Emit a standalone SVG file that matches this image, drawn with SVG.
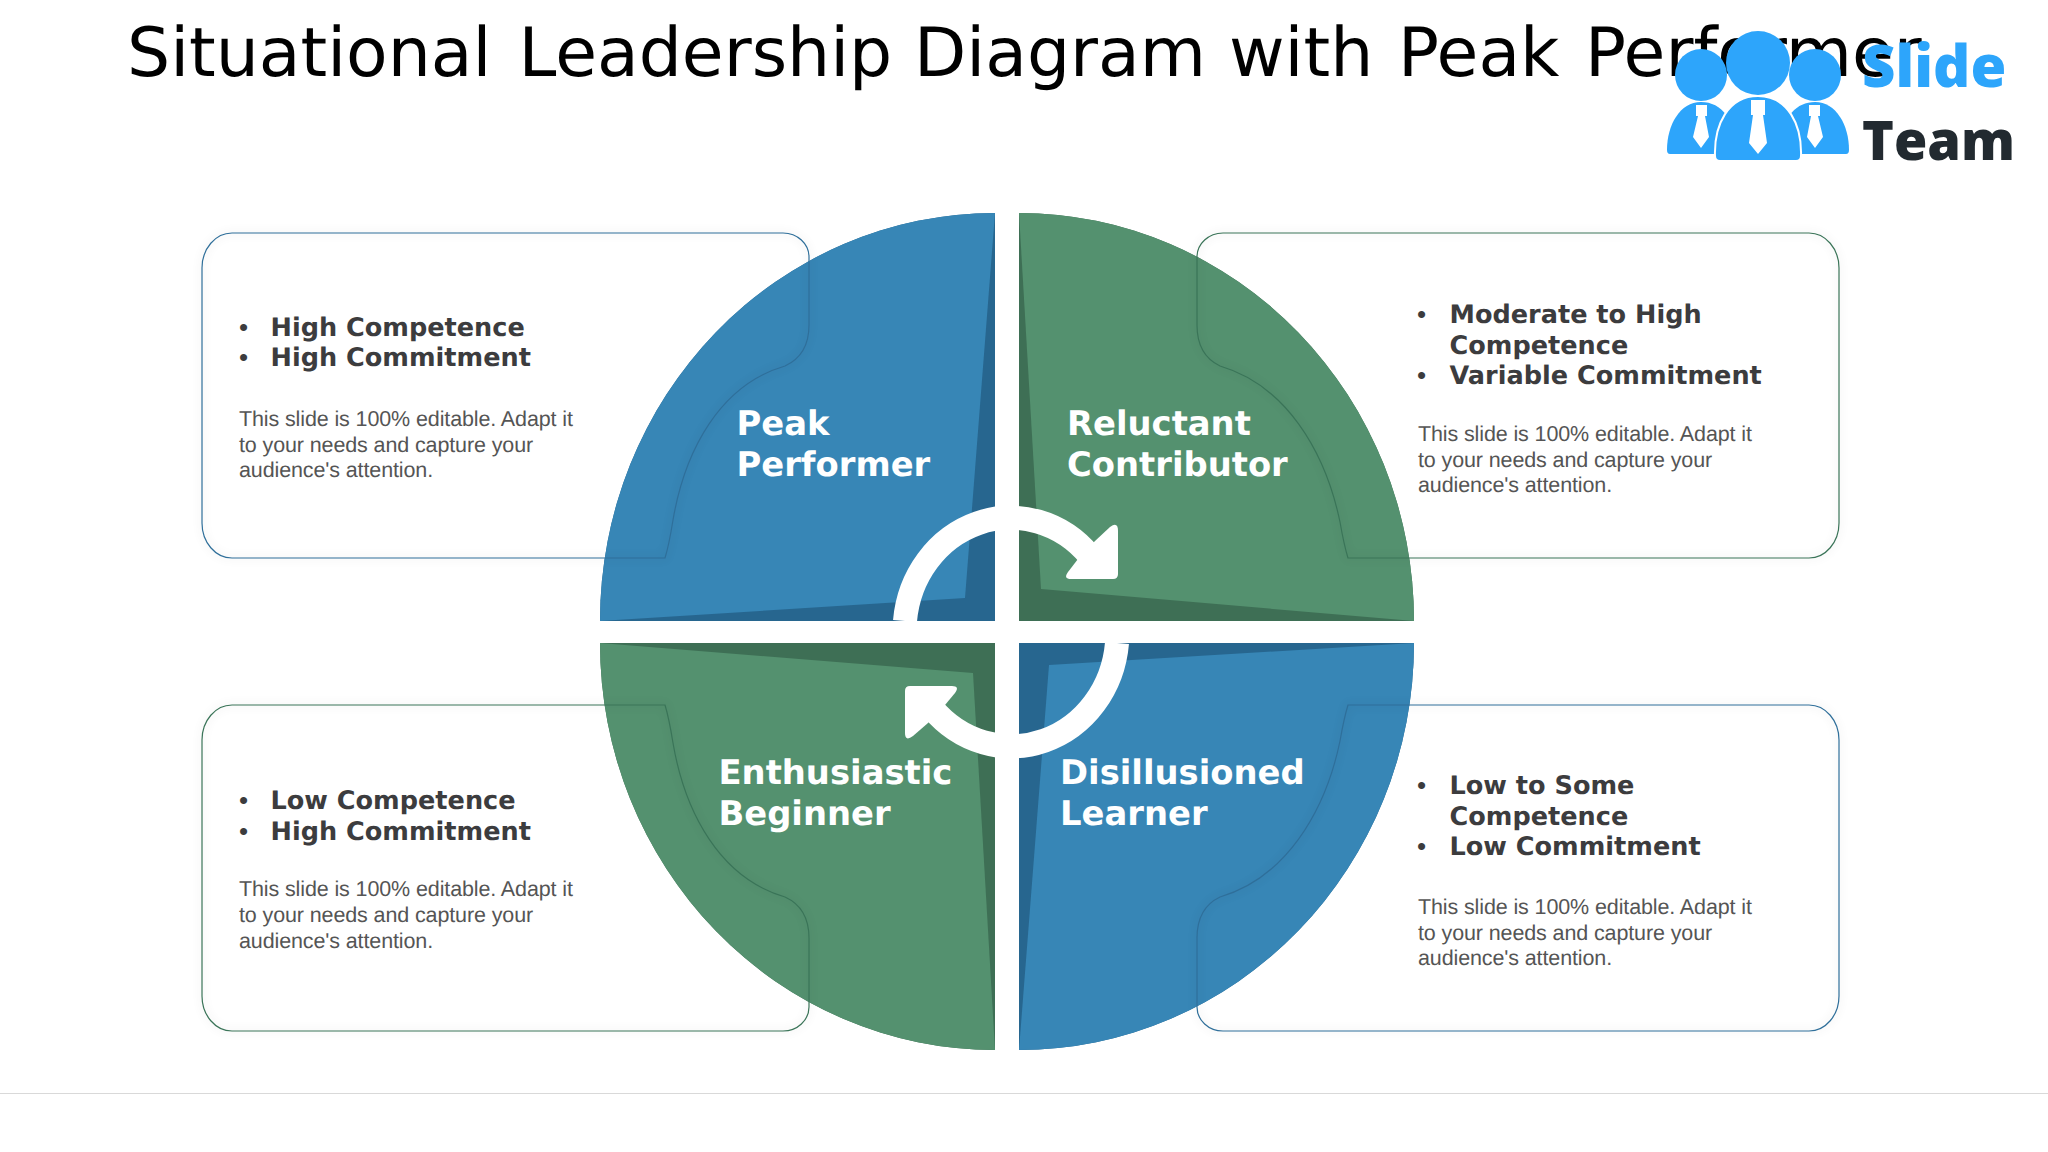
<svg xmlns="http://www.w3.org/2000/svg" width="2048" height="1152" viewBox="0 0 2048 1152">
<defs>
<style>
.title{font-family:"DejaVu Sans",sans-serif;font-size:68px;fill:#000;text-rendering:geometricPrecision}
.lab{font-family:"DejaVu Sans",sans-serif;font-weight:700;font-size:33.8px;fill:#fff;text-rendering:geometricPrecision}
.bul{font-family:"DejaVu Sans",sans-serif;font-weight:700;font-size:25.55px;fill:#3c3c3e;text-rendering:geometricPrecision}
.dot{font-family:"Liberation Sans",sans-serif;font-size:26px;fill:#3c3c3e}
.small{font-family:"Liberation Sans",sans-serif;font-size:21.5px;letter-spacing:-.12px;fill:#555;text-rendering:geometricPrecision}
.bd{fill:#27668f}.bl{fill:#3786b6}.gd{fill:#3e6f55}.gl{fill:#54916f}
.sh{fill:none;stroke:#000;stroke-width:6;opacity:.035;filter:url(#blur)}
.cb{fill:none;stroke:#2f6f9a;stroke-width:1.2}
.cg{fill:none;stroke:#3a7458;stroke-width:1.2}
.ring{fill:none;stroke:#fff;stroke-width:24}
.head{fill:#fff}
.logo{fill:#2da5fb}
.tie{fill:#fff}
</style>
<filter id="blur" x="-10%" y="-10%" width="120%" height="120%"><feGaussianBlur stdDeviation="5"/></filter>
<path id="c1" d="M232,233 H783 A26,24 0 0 1 809,257 V325 Q809,355 785,366 C720,385 685,450 673,520 Q669,545 665,558 H232 A30,35 0 0 1 202,523 V268 A30,35 0 0 1 232,233 Z"/>
<path id="c2" d="M1223,233 H1809 A30,35 0 0 1 1839,268 V523 A30,35 0 0 1 1809,558 H1348 Q1344,545 1340,522 C1325,450 1285,385 1220,366 Q1197,355 1197,325 V257 A26,24 0 0 1 1223,233 Z"/>
<path id="c3" d="M232,705 H665 Q669,718 673,743 C685,813 720,878 785,897 Q809,908 809,938 V1007 A26,24 0 0 1 783,1031 H232 A30,35 0 0 1 202,996 V740 A30,35 0 0 1 232,705 Z"/>
<path id="c4" d="M1348,705 H1809 A30,35 0 0 1 1839,740 V996 A30,35 0 0 1 1809,1031 H1223 A26,24 0 0 1 1197,1007 V938 Q1197,908 1220,897 C1285,878 1325,813 1340,741 Q1344,718 1348,705 Z"/>
</defs>
<rect width="2048" height="1152" fill="#fff"/>
<text class="title" y="76"><tspan x="127">Situational</tspan> <tspan x="518.500">Leadership</tspan> <tspan x="914">Diagram</tspan> <tspan x="1229">with</tspan> <tspan x="1398">Peak</tspan> <tspan x="1585">Performer</tspan></text>
<line x1="0" y1="1093.500" x2="2048" y2="1093.500" stroke="#d9d9d9" stroke-width="1"/>

<g id="node-peak-performer">
<path class="bd" d="M600,621 A395,408 0 0 1 995,213 V621 Z"/>
<path class="bl" d="M600,621 A395,408 0 0 1 995,213 L965,598 Z"/>
</g>
<g id="node-reluctant-contributor">
<path class="gd" d="M1019,213 A395,408 0 0 1 1414,621 H1019 Z"/>
<path class="gl" d="M1019,213 A395,408 0 0 1 1414,621 L1041,589 Z"/>
</g>
<g id="node-enthusiastic-beginner">
<path class="gd" d="M600,643 A395,407 0 0 0 995,1050 V643 Z"/>
<path class="gl" d="M600,643 A395,407 0 0 0 995,1050 L973,673 Z"/>
</g>
<g id="node-disillusioned-learner">
<path class="bd" d="M1414,643 A395,407 0 0 1 1019,1050 V643 Z"/>
<path class="bl" d="M1414,643 A395,407 0 0 1 1019,1050 L1049,665 Z"/>
</g>

<g id="connectors">
<path class="ring" d="M905,621 A106,113.500 0 0 1 1090,556"/>
<path class="head" d="M1110,527 Q1118,521 1118,531 V574 Q1118,579 1113,579 H1071 Q1063,579 1068,572 L1078,559 L1095,541 Z"/>
<path class="ring" d="M1117,643 A106,113.500 0 0 1 932,708"/>
<path class="head" d="M910,686 H952 Q960,686 955,693 L945,705 L928,723 L913,736 Q905,742 905,733 V691 Q905,686 910,686 Z"/>
</g>

<g id="card-top-left">
<use href="#c1" class="sh"/><use href="#c1" class="cb"/>
<text class="dot" x="239" y="336">•</text><text class="bul" x="270.500" y="336">High Competence</text>
<text class="dot" x="239" y="366">•</text><text class="bul" x="270.500" y="366">High Commitment</text>
<text class="small" x="239" y="426">This slide is 100% editable. Adapt it</text>
<text class="small" x="239" y="452">to your needs and capture your</text>
<text class="small" x="239" y="477">audience's attention.</text>
</g>
<g id="card-top-right">
<use href="#c2" class="sh"/><use href="#c2" class="cg"/>
<text class="dot" x="1417" y="323">•</text><text class="bul" x="1449.500" y="323">Moderate to High</text>
<text class="bul" x="1449.500" y="353.500">Competence</text>
<text class="dot" x="1417" y="384">•</text><text class="bul" x="1449.500" y="384">Variable Commitment</text>
<text class="small" x="1418" y="441">This slide is 100% editable. Adapt it</text>
<text class="small" x="1418" y="467">to your needs and capture your</text>
<text class="small" x="1418" y="492">audience's attention.</text>
</g>
<g id="card-bottom-left">
<use href="#c3" class="sh"/><use href="#c3" class="cg"/>
<text class="dot" x="239" y="809">•</text><text class="bul" x="270.500" y="809">Low Competence</text>
<text class="dot" x="239" y="839.500">•</text><text class="bul" x="270.500" y="839.500">High Commitment</text>
<text class="small" x="239" y="896">This slide is 100% editable. Adapt it</text>
<text class="small" x="239" y="922">to your needs and capture your</text>
<text class="small" x="239" y="948">audience's attention.</text>
</g>
<g id="card-bottom-right">
<use href="#c4" class="sh"/><use href="#c4" class="cb"/>
<text class="dot" x="1417" y="794">•</text><text class="bul" x="1449.500" y="794">Low to Some</text>
<text class="bul" x="1449.500" y="824.500">Competence</text>
<text class="dot" x="1417" y="855">•</text><text class="bul" x="1449.500" y="855">Low Commitment</text>
<text class="small" x="1418" y="914">This slide is 100% editable. Adapt it</text>
<text class="small" x="1418" y="940">to your needs and capture your</text>
<text class="small" x="1418" y="965">audience's attention.</text>
</g>

<g id="labels">
<text class="lab" x="736.500" y="434.500">Peak</text><text class="lab" x="736.500" y="475.500">Performer</text>
<text class="lab" x="1067" y="434.500">Reluctant</text><text class="lab" x="1067" y="475.500">Contributor</text>
<text class="lab" x="718.500" y="784">Enthusiastic</text><text class="lab" x="718.500" y="825">Beginner</text>
<text class="lab" x="1060" y="784">Disillusioned</text><text class="lab" x="1060" y="825">Learner</text>
</g>

<g id="logo">
<circle class="logo" cx="1701" cy="75" r="26"/>
<circle class="logo" cx="1815" cy="75" r="26"/>
<path class="logo" d="M1667,150 C1667,125 1680,102 1701,102 C1722,102 1735,120 1740,154 H1670 Q1667,154 1667,150 Z"/>
<path class="logo" d="M1849,150 C1849,125 1836,102 1815,102 C1794,102 1781,120 1776,154 H1846 Q1849,154 1849,150 Z"/>
<path d="M1758,96 C1728,96 1714,125 1715,156 Q1715,161 1720,161 H1796 Q1801,161 1801,156 C1802,125 1788,96 1758,96 Z" class="logo" stroke="#fff" stroke-width="2"/>
<circle class="logo" cx="1758" cy="63" r="32"/>
<path class="tie" d="M1751,100 H1765 V115 H1763 L1767,143 L1758,154 L1749,143 L1753,115 H1751 Z"/>
<path class="tie" d="M1696,105 H1707 V116 H1705 L1709,137 L1701,148 L1693,137 L1698,116 H1696 Z"/>
<path class="tie" d="M1809,105 H1820 V116 H1818 L1823,137 L1815,148 L1807,137 L1811,116 H1809 Z"/>
<text x="1862" y="87" font-family="'Open Sans',sans-serif" font-weight="800" font-size="58" fill="#2da5fb">Slide</text>
<text x="1862" y="160" font-family="'Open Sans',sans-serif" font-weight="800" font-size="54" fill="#222a30">Team</text>
</g>
</svg>
